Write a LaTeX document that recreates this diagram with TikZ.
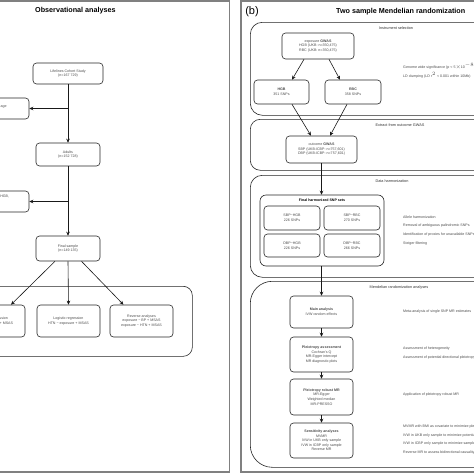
\documentclass[tikz,border=0pt]{standalone}
\usepackage{fontspec}
\setmainfont{Liberation Sans}
\usetikzlibrary{arrows.meta,calc}
\newcommand\boxfont{\fontsize{3.6}{4.6}\selectfont}
\newcommand\labfont{\fontsize{3.8}{4.6}\selectfont}
\begin{document}
\begin{tikzpicture}[x=1pt,y=-1pt,
  box/.style={draw=black!85, line width=0.6pt, rounded corners=3.5pt, align=center, font=\boxfont, text=black!70, inner sep=0pt},
  sect/.style={draw=black!85, line width=0.6pt, inner sep=0pt, anchor=north west},
  arr/.style={draw=black!90, line width=0.6pt, -{Stealth[length=4pt,width=3.6pt]}},
  note/.style={anchor=west, font=\boxfont, text=black!70, inner sep=0pt},
  slabel/.style={font=\labfont, text=black!80, inner sep=0pt},
  frame/.style={draw=black!50, line width=1.6pt},
  ttl/.style={font=\bfseries\fontsize{7.2}{8}\selectfont, inner sep=0pt, anchor=west}]
\useasboundingbox (0,0) rectangle (474,474);
\clip (0,0) rectangle (474,474);
\fill[white] (0,0) rectangle (474,474);

% ---------------- panel (a)
\draw[frame] (-20,1) rectangle (229.5,472);
\node[ttl] (ta) at (35,10.5) {Observational analyses};

\node[box, minimum width=70pt, minimum height=21pt] (lcs) at (68,73.5) {Lifelines Cohort Study\\(n=167 729)};
\node[box, minimum width=89pt, minimum height=21pt] (ex1) at (-15.5,108.5) {Excluded: {<}18 years of age\\(n=15 001)};
\node[box, minimum width=64pt, minimum height=23pt] (adu) at (68,154.5) {Adults\\(n=152 728)};
\node[box, minimum width=89pt, minimum height=21pt] (ex2) at (-15.5,201.5) {Missing SBP, DBP, RBC, HGB,\\or covariates\\(n=3 593)};
\node[box, minimum width=64pt, minimum height=25pt] (fs) at (68,248.5) {Final sample\\(n=149 135)};

\node[sect, rounded corners=9pt, minimum width=212pt, minimum height=70pt] (grp) at (-20,286) {};
\node[box, minimum width=62pt, minimum height=32pt] (r1) at (-6,321) {Linear regression\\BP \textasciitilde{} exposure + MSAS};
\node[box, minimum width=63pt, minimum height=32pt] (r2) at (68.5,321) {Logistic regression\\HTN \textasciitilde{} exposure + MSAS};
\node[box, minimum width=63pt, minimum height=32pt] (r3) at (141.5,321) {Reverse analyses\\exposure \textasciitilde{} BP + MSAS\\exposure \textasciitilde{} HTN + MSAS};

\draw[arr] (lcs.south) -- (adu.north);
\draw[arr] (lcs.south |- ex1.east) -- (ex1.east);
\draw[arr] (adu.south) -- (fs.north);
\draw[arr] (adu.south |- ex2.east) -- (ex2.east);
\draw[arr] ($(fs.south)+(-13,0)$) -- ($(r1.north)+(17,0)$);
\draw[arr] (fs.south) -- (r2.north);
\draw[arr] ($(fs.south)+(13.5,0)$) -- ($(r3.north)+(-18,0)$);

% ---------------- panel (b)
\draw[frame] (241,1) rectangle (500,472);
\node[inner sep=0pt, font=\fontsize{11}{12}\selectfont] (tb) at (252,12) {(b)};
\node[ttl] (tt) at (336,12) {Two sample Mendelian randomization};

% section 1
\node[sect, rounded corners=12pt, minimum width=260pt, minimum height=93pt] (s1) at (250,22) {};
\node[slabel] (l1) at (396,28) {Instrument selection};
\node[box, minimum width=72pt, minimum height=26pt] (exp) at (318,46) {exposure \textbf{GWAS}\\HGB (UKB: n=350,475)\\RBC (UKB: n=350,475)};
\node[note] (n1) at (403,66) {Genome wide significance (p {<} 5$\times$10$^{-8}$)};
\node[note] (n2) at (403,75) {LD clumping (LD r$^{2}$ {<} 0.001 within 10Mb)};
\node[box, minimum width=55pt, minimum height=24pt] (hgb) at (281.5,92) {\textbf{HGB}\\351 SNPs};
\node[box, minimum width=56pt, minimum height=24pt] (rbc) at (353,92) {\textbf{RBC}\\358 SNPs};
\draw[arr] ($(exp.south)+(-14,0)$) -- ($(hgb.north)+(10.5,0)$);
\draw[arr] ($(exp.south)+(11,0)$) -- ($(rbc.north)+(-13,0)$);

% section 2
\node[sect, rounded corners=10pt, minimum width=260pt, minimum height=51pt] (s2) at (250,119) {};
\node[slabel] (l2) at (400,125) {Extract from outcome GWAS};
\node[box, minimum width=71pt, minimum height=27pt] (out) at (321.5,149.5) {outcome \textbf{GWAS}\\SBP (UKB-ICBP: n=757,601)\\DBP (UKB-ICBP: n=757,601)};
\draw[arr] ($(hgb.south)+(10.5,0)$) -- ($(out.north)+(-10.5,0)$);
\draw[arr] ($(rbc.south)+(-6,0)$) -- ($(out.north)+(8.5,0)$);

% section 3
\node[sect, rounded corners=12pt, minimum width=260pt, minimum height=102pt] (s3) at (250,175) {};
\node[slabel] (l3) at (392,181) {Data harmonization};
\node[box, rounded corners=6pt, minimum width=124pt, minimum height=71pt] (fin) at (322,230.5) {};
\node[inner sep=0pt, font=\bfseries\boxfont] (fint) at (322,200.5) {Final harmonized SNP sets};
\node[box, minimum width=56pt, minimum height=24pt] (q1) at (292,218) {SBP\textasciitilde HGB\\226 SNPs};
\node[box, minimum width=56pt, minimum height=24pt] (q2) at (352,218) {SBP\textasciitilde RBC\\270 SNPs};
\node[box, minimum width=56pt, minimum height=23pt] (q3) at (292,245.5) {DBP\textasciitilde HGB\\226 SNPs};
\node[box, minimum width=56pt, minimum height=23pt] (q4) at (352,245.5) {DBP\textasciitilde RBC\\266 SNPs};
\node[note] (n3) at (403,217) {Allele harmonization};
\node[note] (n4) at (403,226) {Removal of ambiguous palindromic SNPs};
\node[note] (n5) at (403,235) {Identification of proxies for unavailable SNPs};
\node[note] (n6) at (403,244) {Steiger filtering};
\draw[arr] (out.south) -- (out.south |- fin.north);

% section 4
\node[sect, rounded corners=22pt, minimum width=260pt, minimum height=186pt] (s4) at (250,281) {};
\node[slabel] (l4) at (399,288) {Mendelian randomization analyses};
\node[box, minimum width=63pt, minimum height=32pt] (main) at (321.5,312) {\textbf{Main analysis}\\IVW random effects};
\node[box, minimum width=63pt, minimum height=35pt] (pla) at (321.5,354.5) {\textbf{Pleiotropy assessment}\\Cochran's Q\\MR-Egger intercept\\MR diagnostic plots};
\node[box, minimum width=63pt, minimum height=36pt] (rob) at (321.5,397) {\textbf{Pleiotropy robust MR}\\MR-Egger\\Weighted median\\MR-PRESSO};
\node[box, minimum width=63pt, minimum height=35pt] (sens) at (321.5,440.5) {\textbf{Sensitivity analyses}\\MVMR\\IVW in UKB only sample\\IVW in ICBP only sample\\Reverse MR};
\node[note] (n7) at (403,312) {Meta-analysis of single SNP MR estimates};
\node[note] (n8) at (403,349) {Assessment of heterogeneity};
\node[note] (n9) at (403,358) {Assessment of potential directional pleiotropy};
\node[note] (n10) at (403,395) {Application of pleiotropy robust MR};
\node[note] (n11) at (403,427) {MVMR with BMI as covariate to minimize pleiotropy};
\node[note] (n12) at (403,436) {IVW in UKB only sample to minimize potential bias};
\node[note] (n13) at (403,444) {IVW in ICBP only sample to minimize sample overlap};
\node[note] (n14) at (403,453) {Reverse MR to assess bidirectional causality};
\draw[arr] (fin.south -| main.north) -- (main.north);
\draw[arr] (main.south) -- (pla.north);
\draw[arr] (pla.south) -- (rob.north);
\draw[arr] (rob.south) -- (sens.north);
\end{tikzpicture}
\end{document}
